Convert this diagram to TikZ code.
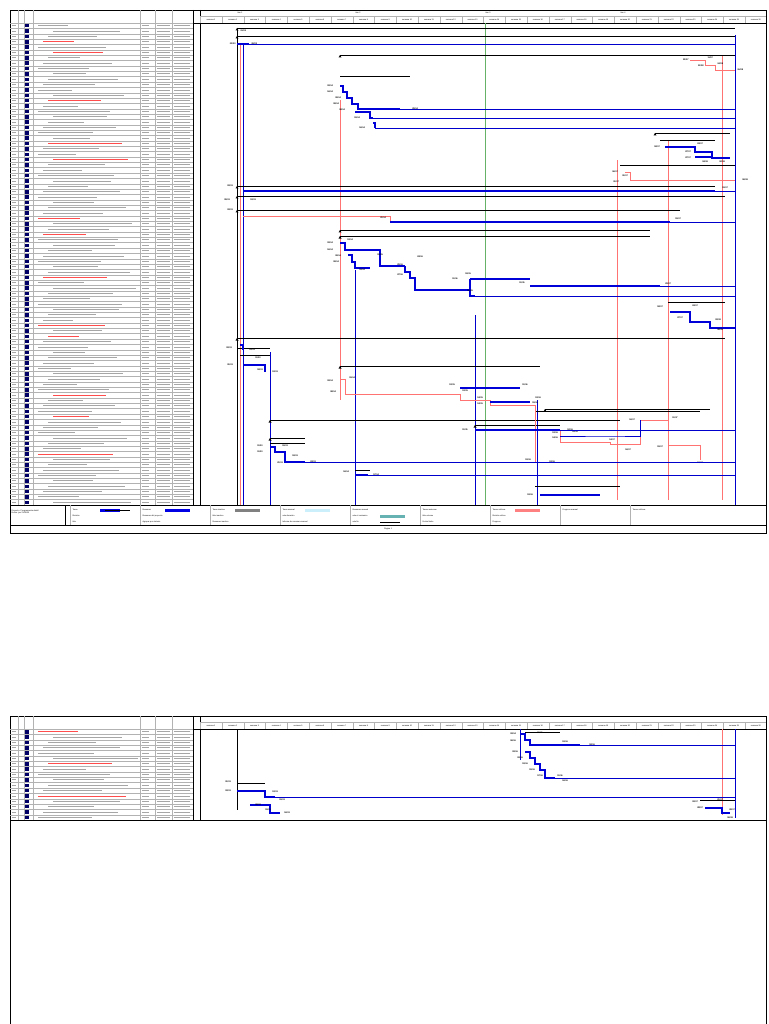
\documentclass[tikz,border=0pt]{standalone}
\usepackage{fontspec}
\setmainfont{Liberation Sans}
\begin{document}
\begin{tikzpicture}[x=1pt,y=-1pt,
  frame/.style={draw=black,line width=0.8pt},
  grid/.style={draw=gray!60,line width=0.2pt},
  txt/.style={draw=gray!70,line width=0.9pt},
  red txt/.style={draw=red!70,line width=0.9pt},
  summ/.style={draw=black,line width=0.8pt},
  bluebar/.style={draw=blue!85!black,line width=1.6pt},
  blueln/.style={draw=blue!80!black,line width=0.5pt},
  redln/.style={draw=red!55,line width=0.7pt},
  lbl/.style={font=\fontsize{2.2}{2.4}\selectfont\bfseries,inner sep=0.3pt},
  tiny/.style={font=\fontsize{2}{2.2}\selectfont,inner sep=0.3pt}]
\useasboundingbox (0,0) rectangle (768,1024);
\fill[white] (0,0) rectangle (768,1024);
% ================= PAGE 1 =================
\draw[frame] (10,10) rectangle (766,533);
\draw[frame] (10,23) -- (766,23);
\draw[frame] (10,505) -- (766,505);
\draw[frame] (10,525) -- (766,525);
\node[tiny] (pg1) at (388,529) {Página 1};
\foreach \x in {18,24,33,140,155,172} \draw[grid] (\x,10) -- (\x,505);
\draw[frame] (193,10) -- (193,505);
\draw[frame] (200,10) -- (200,505);
\foreach \i in {0,...,89}{
  \pgfmathsetmacro{\yy}{23+5.355*\i}
  \pgfmathsetmacro{\ym}{\yy+2.7}
  \draw[grid] (10,\yy) -- (193,\yy);
  \fill[blue!40!black] (25,\yy+1) rectangle (29,\yy+4.5);
  \pgfmathsetmacro{\ind}{mod(\i*7,4)*5}
  \pgfmathsetmacro{\len}{30+mod(\i*37,55)}
  \pgfmathtruncatemacro{\isred}{(mod(\i,11)==3)||(mod(\i,17)==5)}
  \ifnum\isred=1
    \draw[red txt] (38+\ind,\ym) -- (38+\ind+\len,\ym);
  \else
    \draw[txt] (38+\ind,\ym) -- (38+\ind+\len,\ym);
  \fi
  \draw[txt] (12,\ym) -- (16,\ym);
  \draw[txt] (142,\ym) -- (149,\ym);
  \draw[txt] (157,\ym) -- (170,\ym);
  \draw[txt] (174,\ym) -- (190,\ym);
}
\draw[grid] (200,16) -- (766,16);
\foreach \k in {0,...,25}{
  \pgfmathsetmacro{\xx}{200+21.8*\k}
  \draw[grid] (\xx,16) -- (\xx,23);
  \pgfmathtruncatemacro{\w}{\k+1}
  \node[tiny] at (\xx+10.9,19.5) {semana \w};
}
\foreach \xx/\t in {237/trim 1,355/trim 2,485/trim 3,620/trim 4} \node[tiny,anchor=west] at (\xx,13) {\t};
\draw[draw=green!50!black!60,line width=0.6pt] (485,23) -- (485,505);
\draw[summ] (237,28) -- (237,505);
\draw[redln] (240,44) -- (240,505);
\draw[blueln,line width=0.8pt] (243,44) -- (243,505);
\draw[blueln,line width=0.8pt] (735,35) -- (735,505);
\draw[redln] (722,55) -- (722,500);
\draw[redln] (340,100) -- (340,400);
\draw[blueln] (355,270) -- (355,505);
\draw[blueln] (270,352) -- (270,505);
\draw[redln] (617,160) -- (617,500);
\draw[redln] (668,140) -- (668,500);
\draw[blueln] (475,315) -- (475,505);
\draw[blueln] (537,400) -- (537,505);
\foreach \a/\b/\y in {237/735/28, 237/735/36, 340/735/55, 655/730/133, 237/715/186, 237/725/196, 237/680/210,
   340/650/230, 340/650/236, 237/725/338, 237/270/348, 340/540/366, 545/710/409, 270/620/420, 475/560/425, 270/305/438, 270/305/443, 355/370/470}
   \draw[summ] (\a,\y) -- (\b,\y);
\foreach \a/\y in {237/28,237/36,340/55,655/133,237/186,237/196,237/210,340/230,340/236,237/338,340/366,270/420,475/425,270/438,545/409}
   \fill (\a,\y) -- (\a+1.5,\y+2.5) -- (\a-1.5,\y+2.5) -- cycle;
\draw[bluebar] (237,44) -- (249,44); \draw[blueln] (249,44) -- (735,44);
\node[lbl,anchor=east] (l1) at (236,44) {03/03}; \node[lbl,anchor=west] (l2) at (251,44) {08/03};
\node[lbl,anchor=west] (l0) at (240,31) {03/03};
\draw[redln] (690,60) -- (705,60) -- (705,65) -- (715,65) -- (715,70) -- (735,70);
\node[lbl,anchor=east] at (689,60) {20/07}; \node[lbl,anchor=west] at (707,58) {11/07};
\node[lbl,anchor=east] at (704,66) {01/08}; \node[lbl,anchor=west] at (717,64) {04/08};
\node[lbl,anchor=west] at (737,70) {06/08};
\draw[bluebar] (340,86) -- (343,86) -- (343,92) -- (347,92) -- (347,98) -- (352,98) -- (352,104) -- (358,104) -- (358,109) -- (400,109);
\draw[blueln] (400,109) -- (735,109);
\draw[bluebar] (355,112) -- (370,112) -- (370,118) -- (373,118);
\draw[blueln] (373,118) -- (735,118);
\draw[bluebar] (373,123) -- (375,123) -- (375,128);
\draw[blueln] (375,128) -- (735,128);
\draw[summ] (340,76) -- (410,76);
\foreach \x/\y/\t in {330/86/{03/04},330/92/{16/04},338/98/{09/04},336/104/{09/04},342/110/{08/04},357/118/{15/04},362/128/{16/04}}
  \node[lbl] at (\x,\y) {\t};
\node[lbl] at (415,109) {25/04};
\draw[summ] (660,140) -- (715,140);
\draw[bluebar] (665,147) -- (695,147) -- (695,152) -- (712,152) -- (712,158) -- (730,158);
\draw[bluebar] (695,157) -- (712,157);
\foreach \x/\y/\t in {657/147/{18/07},700/144/{24/07},688/152/{27/07},688/158/{27/07},705/162/{04/08},722/162/{02/08}}
  \node[lbl] at (\x,\y) {\t};
\draw[summ] (620,165) -- (735,165);
\draw[redln] (625,172) -- (630,172) -- (630,180) -- (735,180);
\node[lbl] at (615,172) {06/07}; \node[lbl] at (625,176) {01/07}; \node[lbl] at (616,182) {01/07};
\node[lbl] at (745,180) {06/08};
\draw[bluebar] (243,191) -- (715,191); \draw[blueln] (715,191) -- (735,191);
\node[lbl] at (230,186) {03/03}; \node[lbl] at (725,188) {15/07};
\draw[redln] (243,216) -- (390,216) -- (390,222) -- (470,222);
\draw[bluebar] (390,222) -- (670,222); \draw[blueln] (670,222) -- (735,222);
\node[lbl] at (230,210) {03/03}; \node[lbl] at (383,218) {21/04}; \node[lbl] at (678,219) {15/07};
\node[lbl] at (227,200) {05/03}; \node[lbl] at (253,200) {10/03};
\draw[bluebar] (340,243) -- (345,243) -- (345,250) -- (380,250) -- (380,266) -- (405,266);
\draw[bluebar] (348,255) -- (352,255) -- (352,262) -- (355,262) -- (355,268) -- (370,268);
\draw[bluebar] (405,266) -- (405,272) -- (410,272) -- (410,278) -- (415,278) -- (415,290) -- (470,290);
\draw[bluebar] (470,279) -- (530,279); \draw[bluebar] (530,286) -- (660,286);
\draw[bluebar] (470,279) -- (470,296) -- (475,296);
\draw[blueln] (660,286) -- (735,286); \draw[blueln] (475,296) -- (735,296);
\foreach \x/\y/\t in {330/243/{03/04},350/240/{13/04},330/250/{16/04},338/256/{09/04},336/262/{09/04},380/255/{15/05},362/270/{15/04},
  420/257/{24/06},400/265/{25/06},400/275/{27/06},455/279/{11/06},468/274/{19/05},470/291/{16/05},522/283/{11/05},668/284/{20/07}}
  \node[lbl] at (\x,\y) {\t};
\draw[summ] (668,302) -- (725,302);
\draw[bluebar] (670,312) -- (690,312) -- (690,322) -- (710,322) -- (710,328) -- (735,328);
\foreach \x/\y/\t in {660/307/{18/07},695/306/{24/07},680/318/{27/07},718/320/{03/08},720/330/{08/08}}
  \node[lbl] at (\x,\y) {\t};
\draw[bluebar] (240,345) -- (243,345) -- (243,350);
\draw[bluebar] (243,365) -- (265,365) -- (265,372);
\draw[summ] (240,355) -- (270,355);
\foreach \x/\y/\t in {229/348/{03/03},252/350/{10/03},230/365/{01/03},258/358/{11/03},260/370/{18/03},275/372/{13/03}}
  \node[lbl] at (\x,\y) {\t};
\draw[redln] (340,379) -- (345,379) -- (345,394) -- (460,394) -- (460,400) -- (490,400) -- (490,405) -- (535,405) -- (535,462) -- (560,462);
\draw[bluebar] (460,388) -- (520,388);
\draw[bluebar] (490,402) -- (530,402);
\draw[redln] (560,430) -- (560,442) -- (610,442) -- (610,444) -- (640,444) -- (640,420) -- (668,420) -- (668,445) -- (700,445) -- (700,460);
\draw[blueln,line width=1pt] (560,436) -- (610,436) -- (640,436) -- (640,420);
\draw[summ] (536,411) -- (700,411);
\foreach \x/\y/\t in {330/381/{03/04},352/378/{15/04},333/392/{08/04},452/385/{13/05},525/385/{11/06},465/391/{13/05},
  480/398/{14/05},480/404/{14/05},538/398/{13/06},535/403/{15/06},555/433/{13/06},575/432/{15/06},555/438/{14/06},
  612/440/{14/07},628/450/{16/07},632/420/{16/07},675/418/{11/07},660/447/{15/07},700/463/{16/07},528/460/{10/06},552/462/{13/06}}
  \node[lbl] at (\x,\y) {\t};
\draw[bluebar] (475,430) -- (560,430); \draw[blueln] (560,430) -- (735,430);
\node[lbl] at (465,430) {11/05}; \node[lbl] at (570,430) {12/06};
\draw[bluebar] (270,447) -- (275,447) -- (275,452) -- (285,452) -- (285,462) -- (305,462);
\draw[blueln] (305,462) -- (735,462);
\foreach \x/\y/\t in {260/446/{11/03},285/446/{15/03},260/452/{11/03},295/456/{19/03},280/463/{21/03},313/462/{24/03}}
  \node[lbl] at (\x,\y) {\t};
\draw[bluebar] (355,475) -- (368,475); \draw[blueln] (368,475) -- (735,475);
\node[lbl] at (346,472) {16/04}; \node[lbl] at (376,475) {17/04};
\draw[summ] (535,486) -- (620,486);
\draw[bluebar] (540,495) -- (600,495);
\node[lbl] at (530,495) {10/06};
% legend
\draw[frame] (65,505) -- (65,525);
\node[tiny,anchor=west,align=left] (proj) at (11,512) {Proyecto: Programación detall\\Fecha: jue 21/05/20};
\foreach \x in {70,140,210,280,350,420,490,560,630}
  \draw[grid] (\x,505) -- (\x,525);
\foreach \x/\y/\t in {72/510/Tarea,72/516/División,72/522/Hito,142/510/Resumen,142/516/Resumen del proyecto,142/522/Agrupar por síntesis,
  212/510/Tarea inactiva,212/516/Hito inactivo,212/522/Resumen inactivo,282/510/Tarea manual,282/516/solo duración,282/522/Informe de resumen manual,
  352/510/Resumen manual,352/516/solo el comienzo,352/522/solo fin,422/510/Tareas externas,422/516/Hito externo,422/522/Fecha límite,
  492/510/Tareas críticas,492/516/División crítica,492/522/Progreso,562/510/Progreso manual,632/510/Tareas críticas}
  \node[tiny,anchor=west] at (\x,\y) {\t};
\fill[blue!90!black] (100,509) rectangle (120,511.5);
\draw[summ] (105,510) -- (130,510);
\fill[blue!90!black] (165,509) rectangle (190,511.5);
\fill[gray] (235,509) rectangle (260,511.5);
\fill[cyan!20] (305,509) rectangle (330,511.5);
\fill[red!50] (515,509) rectangle (540,511.5);
\draw[summ] (380,522) -- (400,522);
\fill[teal!60] (380,515) rectangle (405,517.5);
% ================= PAGE 2 =================
\draw[frame] (10,716) -- (766,716) -- (766,1024);
\draw[frame] (10,716) -- (10,1024);
\draw[frame] (10,729) -- (766,729);
\draw[frame] (10,820) -- (766,820);
\foreach \x in {18,24,33,140,155,172} \draw[grid] (\x,716) -- (\x,820);
\draw[frame] (193,716) -- (193,820);
\draw[frame] (200,716) -- (200,820);
\draw[grid] (200,722) -- (766,722);
\foreach \k in {0,...,25}{
  \pgfmathsetmacro{\xx}{200+21.8*\k}
  \draw[grid] (\xx,722) -- (\xx,729);
  \pgfmathtruncatemacro{\w}{\k+1}
  \node[tiny] at (\xx+10.9,725.5) {semana \w};
}
\foreach \i in {0,...,16}{
  \pgfmathsetmacro{\yy}{729+5.355*\i}
  \pgfmathsetmacro{\ym}{\yy+2.7}
  \draw[grid] (10,\yy) -- (193,\yy);
  \fill[blue!40!black] (25,\yy+1) rectangle (29,\yy+4.5);
  \pgfmathsetmacro{\ind}{mod(\i*3,4)*5}
  \pgfmathsetmacro{\len}{40+mod(\i*29,50)}
  \pgfmathtruncatemacro{\isred}{mod(\i,6)==0}
  \ifnum\isred=1
    \draw[red txt] (38+\ind,\ym) -- (38+\ind+\len,\ym);
  \else
    \draw[txt] (38+\ind,\ym) -- (38+\ind+\len,\ym);
  \fi
  \draw[txt] (12,\ym) -- (16,\ym);
  \draw[txt] (142,\ym) -- (149,\ym);
  \draw[txt] (157,\ym) -- (170,\ym);
  \draw[txt] (174,\ym) -- (190,\ym);
}
\draw[summ] (237,729) -- (237,810);
\draw[blueln,line width=0.8pt] (735,729) -- (735,818);
\draw[redln] (722,729) -- (722,815);
\draw[blueln] (520,729) -- (520,760);
\draw[bluebar] (520,734) -- (525,734) -- (525,740) -- (530,740) -- (530,745) -- (580,745);
\draw[blueln] (580,745) -- (735,745);
\draw[summ] (525,732) -- (560,732);
\draw[bluebar] (525,752) -- (530,752) -- (530,758) -- (535,758) -- (535,764) -- (540,764) -- (540,770) -- (545,770) -- (545,778) -- (555,778);
\draw[blueln] (555,778) -- (735,778);
\foreach \x/\y/\t in {513/734/{03/04},540/733/{11/06},513/741/{06/06},565/742/{10/06},592/745/{18/06},
  515/752/{03/06},520/758/{03/06},525/764/{10/06},532/770/{15/06},540/776/{17/06},560/776/{11/06},565/781/{16/06}}
  \node[lbl] at (\x,\y) {\t};
\draw[summ] (237,783) -- (265,783);
\draw[bluebar] (237,791) -- (265,791) -- (265,797) -- (275,797);
\draw[bluebar] (250,805) -- (270,805) -- (270,813) -- (280,813);
\draw[blueln] (275,797) -- (735,797);
\foreach \x/\y/\t in {228/782/{01/03},228/791/{03/03},275/792/{13/03},258/805/{09/03},282/800/{15/03},268/810/{15/03},287/813/{16/03}}
  \node[lbl] at (\x,\y) {\t};
\draw[summ] (700,800) -- (735,800);
\draw[bluebar] (705,808) -- (722,808) -- (722,813) -- (730,813);
\foreach \x/\y/\t in {695/802/{03/07},720/800/{21/07},700/808/{28/07},730/818/{06/08},732/810/{28/07}}
  \node[lbl] at (\x,\y) {\t};
\end{tikzpicture}
\end{document}
